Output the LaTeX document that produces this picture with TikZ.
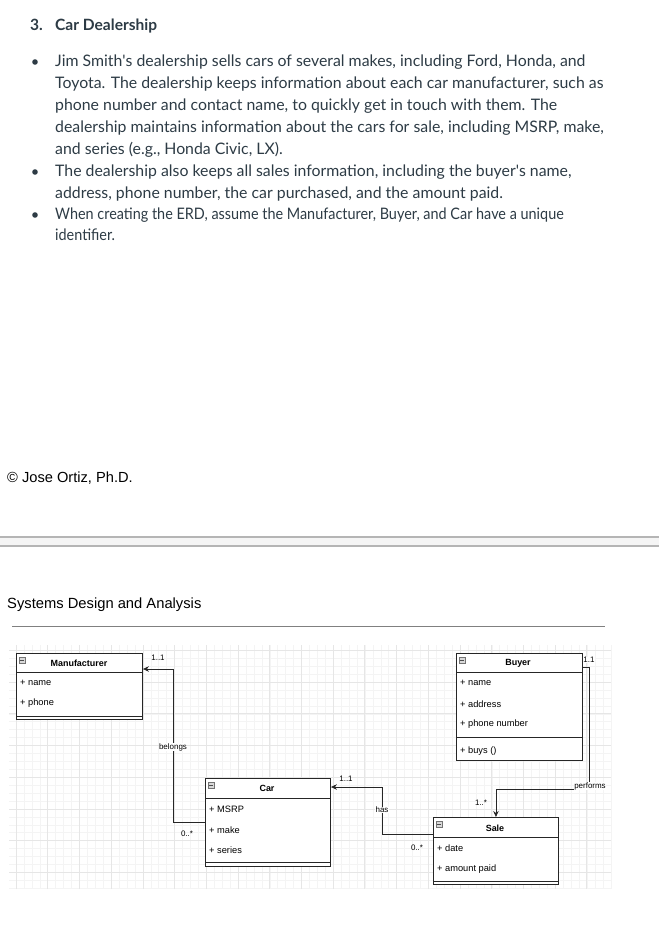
\documentclass[tikz,border=0pt]{standalone}
\usepackage{fontspec}
\setmainfont{Lato}
\newfontfamily\latonarrow[FakeStretch=0.91]{Lato}
\newfontfamily\arial{Liberation Sans}
\usetikzlibrary{arrows.meta}

\definecolor{pagetext}{HTML}{2D3B45}
\definecolor{rulegray}{HTML}{B5B5B5}
\definecolor{gridminor}{HTML}{F4F4F4}
\definecolor{gridmajor}{HTML}{E6E6E6}

\tikzset{
  bodytext/.style={anchor=base west,align=left,inner sep=0pt,text=pagetext,
    font=\fontsize{15.9}{22}\selectfont},
  bulletdot/.style={fill=pagetext,draw=none},
  classbox/.style={draw=black!85,line width=0.9bp,fill=white,inner sep=0pt,anchor=north west},
  classline/.style={draw=black!85,line width=0.9bp},
  classname/.style={inner sep=0pt,font=\arial\bfseries\fontsize{9}{11}\selectfont},
  attr/.style={anchor=west,inner sep=0pt,font=\arial\fontsize{9.3}{11}\selectfont},
  minusicon/.style={draw=black!55,fill=black!15,line width=0.5bp},
  assoc/.style={draw=black!85,line width=0.9bp,-{Stealth[length=6bp,width=5.5bp]}},
  linklabel/.style={inner sep=0.5bp,font=\arial\fontsize{8}{10}\selectfont}
}

\begin{document}
\begin{tikzpicture}[x=1bp,y=-1bp]
\useasboundingbox (0,0) rectangle (659,931);

% task text (multi-line nodes sit on the baseline of their last line)
\node[bodytext,font=\bfseries\fontsize{15.6}{22}\selectfont] (tasknum) at (30,30) {3.};
\node[bodytext,font=\bfseries\fontsize{15.6}{22}\selectfont] (tasktitle) at (55,30) {Car Dealership};
\fill[bulletdot] (35,62) circle (2.8);
\node[bodytext] (itemone) at (55,154) {Jim Smith\textquotesingle s dealership sells cars of several makes, including Ford, Honda, and\\
Toyota. The dealership keeps information about each car manufacturer, such as\\
phone number and contact name, to quickly get in touch with them. The\\
dealership maintains information about the cars for sale, including MSRP, make,\\
and series (e.g., Honda Civic, LX).};
\fill[bulletdot] (35,172) circle (2.8);
\node[bodytext] (itemtwo) at (55,198) {The dealership also keeps all sales information, including the buyer\textquotesingle s name,\\
address, phone number, the car purchased, and the amount paid.};
\fill[bulletdot] (35,215) circle (2.8);
\node[bodytext,font=\latonarrow\fontsize{15.9}{21}\selectfont] (itemthree) at (55,240) {When creating the ERD, assume the Manufacturer, Buyer, and Car have a unique\\
identifier.};

\node[anchor=base west,inner sep=0pt,font=\arial\fontsize{14.7}{16}\selectfont] (credit) at (7,482) {\textcopyright{} Jose Ortiz, Ph.D.};

% page break
\fill[black!4] (0,537) rectangle (659,546);
\draw[rulegray,line width=1.2bp] (0,537) -- (659,537);
\draw[rulegray,line width=1.2bp] (0,546) -- (659,546);

\node[anchor=base west,inner sep=0pt,font=\arial\fontsize{14.8}{16}\selectfont] (course) at (7,608) {Systems Design and Analysis};
\draw[black!50,line width=0.9bp] (12,626) -- (605,626);

% grid
\begin{scope}[shift={(16,650.3)}]
\draw[gridminor,line width=0.5bp,step=7.93bp] (-7,-5.3) grid (595,238.7);
\draw[gridmajor,line width=0.6bp,step=31.7bp] (-7,-5.3) grid (595,238.7);
\end{scope}

% Manufacturer
\node[classbox,minimum width=126bp,minimum height=66bp] (manu) at (16,653) {};
\draw[classline] (16,672) -- (142,672);
\draw[classline] (16,716) -- (142,716);
\draw[minusicon] (19,657) rectangle (25,663);
\draw[black!70,line width=0.5bp] (20.3,660) -- (23.7,660);
\node[classname] (manuname) at (79,663) {Manufacturer};
\node[attr] (manuattra) at (20,683) {+ name};
\node[attr] (manuattrb) at (20,703) {+ phone};

% Car
\node[classbox,minimum width=125bp,minimum height=88bp] (car) at (205,778) {};
\draw[classline] (205,798) -- (330,798);
\draw[classline] (205,862) -- (330,862);
\draw[minusicon] (208,782) rectangle (214,788);
\draw[black!70,line width=0.5bp] (209.3,785) -- (212.7,785);
\node[classname] (carname) at (267,788) {Car};
\node[attr] (carattra) at (209,809) {+ MSRP};
\node[attr] (carattrb) at (209,830) {+ make};
\node[attr] (carattrc) at (209,850) {+ series};

% Buyer
\node[classbox,minimum width=126bp,minimum height=107bp] (buyer) at (456,653) {};
\draw[classline] (456,672) -- (582,672);
\draw[classline] (456,737) -- (582,737);
\draw[minusicon] (459,657) rectangle (465,663);
\draw[black!70,line width=0.5bp] (460.3,660) -- (463.7,660);
\node[classname] (buyername) at (518,663) {Buyer};
\node[attr] (buyerattra) at (460,683) {+ name};
\node[attr] (buyerattrb) at (460,704) {+ address};
\node[attr] (buyerattrc) at (460,724) {+ phone number};
\node[attr] (buyerop) at (460,751) {+ buys ()};

% Sale
\node[classbox,minimum width=125bp,minimum height=67bp] (sale) at (433,817) {};
\draw[classline] (433,837) -- (558,837);
\draw[classline] (433,881) -- (558,881);
\draw[minusicon] (436,821) rectangle (442,827);
\draw[black!70,line width=0.5bp] (437.3,824) -- (440.7,824);
\node[classname] (salename) at (495,828) {Sale};
\node[attr] (saleattra) at (437,848) {+ date};
\node[attr] (saleattrb) at (437,869) {+ amount paid};

% associations
\coordinate (belongsbend) at (173,669);
\draw[assoc] (car.west) -| (belongsbend) -- (belongsbend -| manu.east);
\node[linklabel] (belongsfrom) at (158,658) {1..1};
\node[linklabel,fill=white] (belongs) at (173,747) {belongs};
\node[linklabel] (belongsto) at (187,834) {0..*};

\coordinate (saleport) at (433,834);
\coordinate (hasbend) at (382,787);
\draw[assoc] (saleport) -| (hasbend) -- (hasbend -| car.east);
\node[linklabel] (hasfrom) at (346,779) {1..1};
\node[linklabel,fill=white] (has) at (382,810) {has};
\node[linklabel] (hasto) at (417,848) {0..*};

\coordinate (buyerport) at (582,667);
\coordinate (performsbend) at (589,789);
\draw[assoc] (buyerport) -| (performsbend) -| (sale.north);
\node[linklabel,fill=white] (performsfrom) at (589,660) {1.1};
\node[linklabel,fill=white] (performs) at (590,786) {performs};
\node[linklabel] (performsto) at (481,803) {1..*};
\end{tikzpicture}
\end{document}
